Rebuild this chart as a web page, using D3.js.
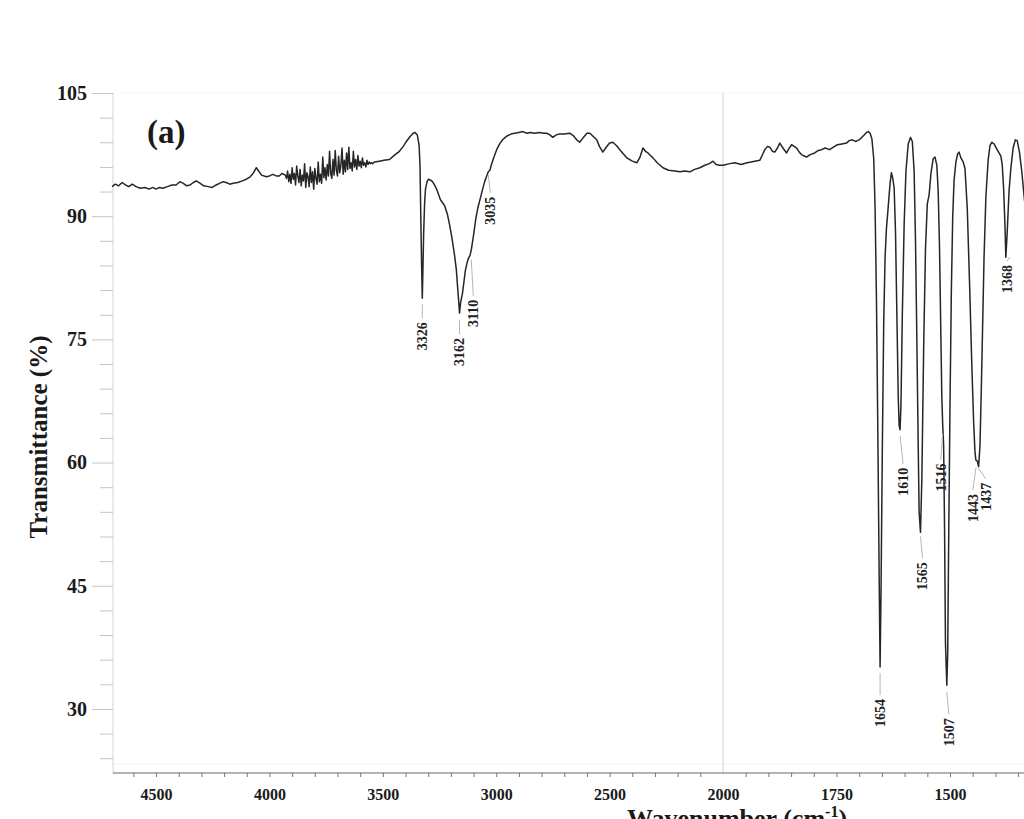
<!DOCTYPE html>
<html>
<head>
<meta charset="utf-8">
<script src="https://cdn.jsdelivr.net/npm/d3@7/dist/d3.min.js"></script>
<style>
  html, body { margin: 0; padding: 0; background: #fff; }
  svg { display: block; }
  text { font-family: "Liberation Serif", "Times New Roman", serif; font-weight: bold; }
</style>
</head>
<body>
<svg id="chart" width="1024" height="819"></svg>
<script>
// ---------------- DATA ----------------
const yTicks = [30, 45, 60, 75, 90, 105];
const xTicksHigh = [4500, 4000, 3500, 3000, 2500, 2000];
const xTicksLow = [1750, 1500];
const peakLabels = [3326, 3162, 3110, 3035, 1654, 1610, 1565, 1516, 1507, 1443, 1437, 1368];

// [wavenumber cm-1, transmittance %]
const spectrumHigh = [
  [4694,93.6],[4680,93.9],[4665,93.7],[4650,94.1],[4635,93.8],[4620,93.6],[4605,93.9],[4588,93.6],
  [4570,93.4],[4550,93.5],[4530,93.3],[4515,93.5],[4500,93.3],[4485,93.5],[4470,93.4],[4450,93.6],
  [4430,93.8],[4412,93.8],[4395,94.2],[4380,94.0],[4365,93.7],[4350,93.8],[4335,94.1],[4323,94.3],
  [4305,94.0],[4290,93.7],[4270,93.6],[4253,93.5],[4235,93.8],[4220,94.0],[4205,94.2],[4191,94.1],
  [4175,93.9],[4160,94.0],[4140,94.1],[4120,94.3],[4102,94.5],[4085,94.8],[4070,95.3],[4058,95.9],
  [4048,95.5],[4035,95.0],[4014,94.8],[4000,94.9],[3985,95.1],[3970,94.9],[3957,94.9],[3945,95.2]
];
const spectrumNoisy = [
  [3930,95.0],[3925,94.6],[3920,95.5],[3915,94.2],[3910,95.1],[3905,94.0],[3900,95.9],[3895,94.5],
  [3890,95.2],[3885,93.8],[3880,96.1],[3875,94.9],[3870,94.1],[3865,95.7],[3860,93.7],[3855,95.0],
  [3850,94.3],[3845,96.4],[3840,93.5],[3835,95.3],[3830,94.8],[3825,93.6],[3820,96.0],[3815,94.1],
  [3810,95.4],[3805,93.3],[3800,95.8],[3795,94.6],[3790,93.9],[3785,96.6],[3780,94.2],[3775,95.1],
  [3770,94.0],[3765,97.2],[3760,94.7],[3755,95.9],[3750,94.4],[3745,96.3],[3740,94.9],[3735,97.9],
  [3730,95.2],[3725,94.6],[3720,96.9],[3715,95.0],[3710,98.0],[3705,95.6],[3700,94.9],[3695,97.3],
  [3690,95.3],[3685,96.2],[3680,98.3],[3675,95.1],[3670,96.8],[3665,95.4],[3660,97.7],[3655,95.7],
  [3650,98.4],[3645,95.8],[3640,96.5],[3635,95.5],[3630,97.9],[3625,96.0],[3620,96.9],[3615,95.7],
  [3610,97.4],[3605,96.1],[3600,96.7],[3595,95.9],[3590,97.1],[3585,96.2],[3580,96.5],[3575,96.0],
  [3570,96.8],[3565,96.3],[3560,96.6],[3555,96.4],[3550,96.5],[3545,96.4]
];
const spectrumMid = [
  [3537,96.6],[3515,96.7],[3495,96.8],[3471,96.9],[3450,97.4],[3427,97.9],[3410,98.5],[3396,99.1],
  [3380,99.7],[3366,100.1],[3358,100.2],[3348,99.9],[3340,98.6],[3336,96.0],[3333,90.5],[3329,84.0],
  [3326,80.0],[3323,84.0],[3320,88.0],[3316,91.5],[3312,93.3],[3305,94.2],[3299,94.5],[3290,94.4],
  [3281,94.2],[3272,93.8],[3263,93.3],[3246,92.0],[3228,91.3],[3215,90.2],[3206,89.0],[3195,87.3],
  [3184,85.3],[3176,83.5],[3171,81.6],[3166,79.8],[3162,78.2],[3157,79.5],[3149,80.6],[3141,82.3],
  [3136,83.4],[3128,84.4],[3122,84.9],[3116,85.2],[3110,85.9],[3100,87.7],[3090,89.7],[3082,90.9],
  [3070,92.2],[3060,93.3],[3050,94.3],[3042,94.9],[3035,95.4],[3028,95.6],[3021,96.3],[3010,97.2],
  [2998,98.1],[2985,98.8],[2972,99.3],[2960,99.6],[2950,99.8],[2935,100.0],[2919,100.1],[2900,100.2],
  [2883,100.3],[2865,100.1],[2850,100.2],[2830,100.1],[2810,100.2],[2790,100.1],[2777,100.1],[2763,99.9],
  [2751,99.6],[2735,99.9],[2720,100.0],[2700,100.0],[2676,100.1],[2660,99.8],[2645,99.3],[2632,99.0],
  [2615,99.6],[2600,100.1],[2587,100.1],[2572,99.7],[2557,99.3],[2545,98.5],[2530,97.8],[2515,98.4],
  [2500,98.9],[2486,99.0],[2470,98.6],[2455,98.1],[2440,97.6],[2424,97.1],[2400,96.7],[2380,96.5],
  [2366,97.2],[2353,98.3],[2342,97.9],[2331,97.7],[2320,97.4],[2309,97.1],[2290,96.5],[2265,95.9],
  [2240,95.6],[2212,95.5],[2190,95.4],[2170,95.5],[2146,95.4],[2125,95.7],[2102,95.9],[2080,96.2],
  [2060,96.4],[2044,96.7],[2030,96.3],[2015,96.2],[2000,96.2]
];
const spectrumFingerprint = [
  [1985,96.4],[1974,96.5],[1960,96.3],[1947,96.5],[1938,96.6],[1930,96.7],[1919,96.8],[1912,97.6],
  [1908,98.1],[1902,98.5],[1897,98.4],[1891,97.9],[1886,97.8],[1880,98.3],[1875,98.9],[1868,98.3],
  [1860,97.7],[1855,98.2],[1849,98.7],[1843,98.5],[1838,98.3],[1832,97.8],[1827,97.5],[1820,97.3],
  [1816,97.2],[1808,97.5],[1798,97.7],[1790,98.0],[1783,98.1],[1775,98.3],[1765,98.1],[1757,98.4],
  [1748,98.7],[1738,98.8],[1728,98.9],[1722,99.2],[1715,99.3],[1708,99.1],[1700,99.3],[1694,99.6],
  [1689,99.9],[1684,100.2],[1680,100.3],[1676,100.1],[1672,99.4],[1668,97.0],[1665,91.0],[1662,80.0],
  [1659,64.0],[1656,46.0],[1654,35.1],[1652,44.0],[1649,62.0],[1646,77.0],[1643,85.0],[1640,88.5],
  [1636,91.2],[1632,94.0],[1629,95.3],[1626,94.6],[1623,93.4],[1620,88.0],[1617,78.0],[1614,68.0],
  [1612,64.5],[1610,64.0],[1608,67.0],[1605,78.0],[1601,89.0],[1597,95.5],[1592,98.8],[1587,99.6],
  [1583,99.1],[1579,95.5],[1576,87.0],[1573,75.0],[1570,62.0],[1568,54.0],[1565,51.5],[1562,58.0],
  [1558,74.0],[1554,86.0],[1550,91.5],[1546,92.6],[1542,95.2],[1537,97.0],[1533,97.2],[1529,96.2],
  [1526,93.0],[1523,86.0],[1520,75.0],[1518,68.0],[1516,64.5],[1514,62.0],[1512,52.0],[1510,38.0],
  [1507,32.9],[1505,37.0],[1503,50.0],[1500,67.0],[1497,81.0],[1494,90.0],[1491,94.4],[1487,96.6],
  [1483,97.6],[1480,97.8],[1476,97.1],[1471,96.6],[1467,95.8],[1462,91.0],[1457,82.0],[1452,72.0],
  [1448,65.0],[1445,61.3],[1443,60.3],[1440,60.2],[1437,59.5],[1434,62.0],[1431,69.0],[1428,77.0],
  [1425,85.0],[1421,92.3],[1416,96.8],[1412,98.6],[1408,99.0],[1403,98.8],[1398,98.3],[1393,97.8],
  [1388,97.3],[1385,96.3],[1382,93.5],[1379,89.0],[1377,85.0],[1374,88.0],[1370,93.0],[1366,95.8],
  [1361,98.3],[1356,99.3],[1352,99.2],[1347,97.8],[1342,95.5],[1336,92.0],[1330,89.0]
];

// ---------------- LAYOUT ----------------
const svg = d3.select("#chart");
const plotTop = 93, plotBottom = 773, plotLeft = 113;

const xHigh = d3.scaleLinear().domain([4690, 2000]).range([plotLeft, 723]);
const xLow = d3.scaleLinear().domain([2000, 1300]).range([723, 723 + 700 * 0.454]);
const x = w => (w >= 2000 ? xHigh(w) : xLow(w));
const y = d3.scaleLinear().domain([22.2, 105]).range([plotBottom, plotTop]);

const spectrum = [].concat(spectrumHigh, spectrumNoisy, spectrumMid, spectrumFingerprint);

// faint frame lines
svg.append("line").attr("x1", plotLeft).attr("x2", 1024).attr("y1", plotTop).attr("y2", plotTop)
  .attr("stroke", "#eeeeee").attr("stroke-width", 1).attr("stroke-dasharray", "2,2");
svg.append("line").attr("x1", plotLeft).attr("x2", 1024).attr("y1", plotBottom - 9).attr("y2", plotBottom - 9)
  .attr("stroke", "#f2f2f2").attr("stroke-width", 1);

// vertical break line at 2000
svg.append("line").attr("x1", x(2000)).attr("x2", x(2000)).attr("y1", plotTop).attr("y2", plotBottom)
  .attr("stroke", "#cfcfcf").attr("stroke-width", 1);

// Y axis
svg.append("line").attr("x1", plotLeft).attr("x2", plotLeft).attr("y1", plotTop).attr("y2", plotBottom)
  .attr("stroke", "#dcdcdc").attr("stroke-width", 1.2);
const yMinor = d3.range(24, 105, 3).filter(v => !yTicks.includes(v));
const gyMinor = svg.append("g").attr("transform", `translate(${plotLeft},0)`)
  .call(d3.axisLeft(y).tickValues(yMinor).tickSize(13).tickFormat(""));
gyMinor.select(".domain").remove();
gyMinor.selectAll("line").attr("stroke", "#c4c4c4");
const gy = svg.append("g").attr("transform", `translate(${plotLeft},0)`)
  .call(d3.axisLeft(y).tickValues(yTicks).tickSize(21).tickPadding(5).tickFormat(d3.format("d")));
gy.select(".domain").remove();
gy.selectAll("line").attr("stroke", "#c4c4c4");
gy.selectAll("text").attr("font-size", 20).attr("fill", "#1a1a1a")
  .style("font-family", "'Liberation Serif', serif").style("font-weight", "bold");

// X axis
svg.append("line").attr("x1", plotLeft).attr("x2", 1024).attr("y1", plotBottom).attr("y2", plotBottom)
  .attr("stroke", "#6a6a6a").attr("stroke-width", 1.2);
const minorHigh = d3.range(4600, 2000, -100);
const minorLow = d3.range(1950, 1299, -50);
const gxh = svg.append("g").attr("transform", `translate(0,${plotBottom})`)
  .call(d3.axisBottom(xHigh).tickValues(minorHigh).tickSize(4).tickFormat(""));
const gxl = svg.append("g").attr("transform", `translate(0,${plotBottom})`)
  .call(d3.axisBottom(xLow).tickValues(minorLow).tickSize(4).tickFormat(""));
[gxh, gxl].forEach(g => { g.select(".domain").remove(); g.selectAll("line").attr("stroke", "#777"); });

const gxhL = svg.append("g").attr("transform", `translate(0,${plotBottom})`)
  .call(d3.axisBottom(xHigh).tickValues(xTicksHigh).tickSize(0).tickPadding(16).tickFormat(d3.format("d")));
const gxlL = svg.append("g").attr("transform", `translate(0,${plotBottom})`)
  .call(d3.axisBottom(xLow).tickValues(xTicksLow).tickSize(0).tickPadding(16).tickFormat(d3.format("d")));
[gxhL, gxlL].forEach(g => {
  g.select(".domain").remove();
  g.selectAll("text").attr("font-size", 16).attr("fill", "#1a1a1a")
    .style("font-family", "'Liberation Serif', serif").style("font-weight", "bold");
});

// Axis titles
svg.append("text")
  .attr("transform", "translate(47,437) rotate(-90)")
  .attr("text-anchor", "middle").attr("font-size", 25).attr("fill", "#1a1a1a")
  .text("Transmittance (%)");

// x title: the reference photo crops it at the bottom edge
const xt = svg.append("text").attr("x", 737).attr("y", 827)
  .attr("text-anchor", "middle").attr("font-size", 26).attr("fill", "#1a1a1a");
xt.append("tspan").text("Wavenumber (cm");
xt.append("tspan").attr("font-size", 16).attr("dy", -10).text("-1");
xt.append("tspan").attr("dy", 10).text(")");

// Panel label
svg.append("text").attr("x", 147).attr("y", 143).attr("font-size", 33).attr("fill", "#1a1a1a").text("(a)");

// Spectrum
const line = d3.line().x(d => x(d[0])).y(d => y(d[1])).curve(d3.curveLinear);
svg.append("path").datum(spectrum)
  .attr("d", line).attr("fill", "none").attr("stroke", "#262626")
  .attr("stroke-width", 1.5).attr("stroke-linejoin", "round");

// Peak labels
const interpT = w => {
  for (let i = 0; i < spectrum.length - 1; i++) {
    const a = spectrum[i], b = spectrum[i + 1];
    if (w <= a[0] && w >= b[0]) {
      const t = (a[0] - w) / (a[0] - b[0]);
      return a[1] + t * (b[1] - a[1]);
    }
  }
  return 100;
};
const labelLayout = {
  3326: { dx: 0, gap: 24, len: 14 }, 3162: { dx: 0, gap: 25, len: 14 },
  3110: { dx: 2, gap: 50, len: 36 }, 3035: { dx: 2, gap: 25, len: 18 },
  1654: { dx: 0, gap: 32, len: 22 }, 1610: { dx: 3, gap: 38, len: 28 },
  1565: { dx: 2, gap: 30, len: 22 }, 1516: { dx: -2, gap: 38, len: 26 },
  1507: { dx: 2, gap: 33, len: 22 }, 1443: { dx: -3, gap: 34, len: 22 },
  1437: { dx: 7, gap: 16, len: 10 }, 1368: { dx: -3, gap: 85, len: 4 }
};
const gp = svg.append("g");
peakLabels.forEach(w => {
  const L = labelLayout[w];
  const px = x(w), py = y(interpT(w));
  const top = py + L.gap;
  gp.append("line")
    .attr("x1", px).attr("y1", top - 4 - L.len).attr("x2", px + L.dx).attr("y2", top - 4)
    .attr("stroke", "#b5b5b5").attr("stroke-width", 1);
  gp.append("text")
    .attr("transform", `translate(${px + L.dx},${top}) rotate(-90)`)
    .attr("text-anchor", "end").attr("dy", "0.35em")
    .attr("font-size", 14).attr("fill", "#222")
    .text(w);
});
</script>
</body>
</html>
